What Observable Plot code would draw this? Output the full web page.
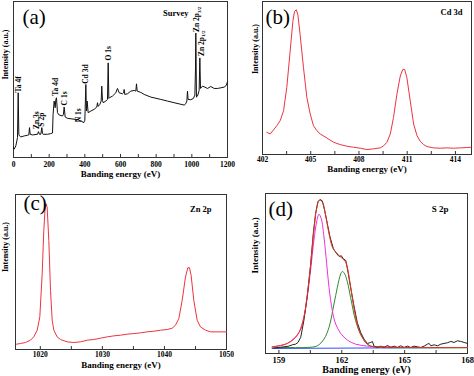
<!DOCTYPE html>
<html><head><meta charset="utf-8">
<script src="https://cdn.jsdelivr.net/npm/d3@7"></script>
<script src="https://cdn.jsdelivr.net/npm/@observablehq/plot@0.6"></script>
<style>
body{margin:0;background:#fff;}
#fig{position:relative;width:474px;height:376px;overflow:hidden;background:#fff;}
#fig > svg{position:absolute;}
</style></head><body><div id="fig"></div>
<script>
// ---- Panel (a) survey: [binding energy eV, intensity a.u.]
const survey = [[0,30],[3.7,25],[13,35],[18.7,50],[22.4,60],[26.2,195],[29.9,70],[33.6,65],[41,62],[60,65],[78.5,67],[86,68],[89.7,90],[93.5,70],[106.5,68],[134.6,70],[140,78],[145.8,70],[153,70],[159,90],[162.6,72],[166,70],[190.7,70],[209,72],[218.7,74],[222,130],[228,170],[233.6,150],[237.4,175],[241,180],[246.7,135],[256,128],[274.8,125],[280,130],[284,152],[289.7,122],[302.8,118],[358.9,114],[387,108],[392.5,104],[400,112],[405.6,220],[409,140],[413,170],[418.7,135],[433.6,140],[452,145],[467,152],[471,165],[474.8,154],[484,160],[491.6,170],[495,215],[499,172],[502.8,165],[517.8,170],[527,175],[531,285],[534.6,178],[538,180],[555,185],[573.8,195],[583,208],[592.5,195],[611,192],[617,195],[620.6,205],[624,190],[639,192],[658,200],[676.6,202],[686,200],[689.7,222],[693.5,200],[714,196],[732.7,190],[770,182],[826,175],[863.5,170],[901,165],[957,158],[966,162],[972,170],[975.7,200],[979,175],[994,174],[1009,178],[1017,188],[1020.6,270],[1022.4,375],[1026,182],[1031.8,185],[1041,202],[1045,300],[1048.6,208],[1060,215],[1073,212],[1087.9,208],[1106.5,214],[1125,208],[1144,208],[1162.6,210],[1181,212],[1192.5,217],[1200,228]];
const surveyPeaks = [
  {t:"Ta 4f", e:31, i:196},
  {t:"Zn 3s", e:131, i:86},
  {t:"S 2p", e:157, i:93},
  {t:"Ta 4d", e:234, i:186},
  {t:"C 1s", e:288, i:157},
  {t:"N 1s", e:363, i:106},
  {t:"Cd 3d", e:407, i:222},
  {t:"O 1s", e:531, i:292},
  {t:"Zn 2p3/2", e:1028, i:378},
  {t:"Zn 2p1/2", e:1054, i:306}
];
const surveyMajor = [0,200,400,600,800,1000,1200];
const surveyMinor = [100,300,500,700,900,1100];

// ---- Panel (b) Cd 3d
const cd3d = [[402.27,67],[402.48,62],[402.68,74],[402.89,87],[403.10,102],[403.31,132],[403.51,202],[403.72,312],[403.89,402],[403.99,432],[404.10,437],[404.20,422],[404.34,362],[404.55,262],[404.76,172],[404.97,122],[405.17,87],[405.38,72],[405.59,62],[406.00,50],[406.42,37],[406.83,30],[407.25,25],[407.66,22],[408.08,19],[408.49,15],[408.91,17],[409.32,20],[409.53,26],[409.74,37],[409.95,62],[410.15,112],[410.36,182],[410.57,237],[410.73,257],[410.84,257],[410.98,232],[411.19,162],[411.40,92],[411.61,57],[411.81,40],[412.02,30],[412.23,24],[412.64,20],[413.06,19],[413.47,20],[413.89,19],[414.30,20],[414.71,21],[414.97,22]];
const cdMajor = [402,405,408,411,414];
const cdMinor = [403.5,406.5,409.5,412.5];

// ---- Panel (c) Zn 2p
const zn2p = [[1016.16,16],[1016.81,18],[1017.61,21],[1018.42,28],[1018.95,38],[1019.49,58],[1019.92,98],[1020.30,228],[1020.56,358],[1020.78,428],[1020.94,438],[1021.10,428],[1021.37,328],[1021.64,178],[1021.91,88],[1022.18,58],[1022.71,38],[1023.25,30],[1024.32,23],[1025.40,21],[1026.47,23],[1027.55,28],[1028.62,30],[1029.69,34],[1030.77,38],[1031.84,41],[1032.92,43],[1033.99,46],[1035.07,48],[1036.14,50],[1037.21,53],[1038.29,55],[1039.36,58],[1040.44,60],[1041.24,64],[1041.78,73],[1042.32,93],[1042.86,148],[1043.39,218],[1043.77,246],[1044.03,246],[1044.30,223],[1044.73,148],[1045.27,88],[1045.80,68],[1046.61,58],[1047.42,53],[1048.49,53],[1050.0,53]];
const znMajor = [1020,1030,1040,1050];
const znMinor = [1025,1035,1045];

// ---- Panel (d) S 2p
const s2pRaw = [[158.76,16],[159.00,18],[159.24,20],[159.48,22],[159.64,26],[159.80,28],[159.91,33],[160.04,48],[160.19,98],[160.35,170],[160.51,263],[160.64,358],[160.75,418],[160.86,453],[160.96,460],[161.07,456],[161.18,428],[161.31,388],[161.44,348],[161.60,313],[161.76,298],[161.87,290],[161.98,292],[162.07,283],[162.19,278],[162.30,243],[162.42,198],[162.58,143],[162.74,93],[162.90,63],[163.06,43],[163.22,30],[163.38,33],[163.46,36],[163.54,22],[163.70,18],[163.86,22],[164.02,18],[164.18,24],[164.34,18],[164.50,22],[164.65,18],[164.81,23],[164.97,18],[165.13,22],[165.29,18],[165.45,22],[165.61,20],[165.77,18],[165.93,22],[166.09,28],[166.17,30],[166.25,23],[166.41,26],[166.57,23],[166.73,28],[166.88,30],[167.04,32],[167.20,36],[167.36,33],[167.52,38],[167.68,36],[167.84,33],[168.00,30]];
const s2pFit = [[158.68,20],[159.40,30],[159.96,63],[160.19,108],[160.35,173],[160.51,263],[160.67,368],[160.80,433],[160.93,458],[161.07,453],[161.23,413],[161.39,358],[161.55,318],[161.71,303],[161.87,293],[162.03,283],[162.19,273],[162.35,228],[162.50,168],[162.66,108],[162.82,68],[162.98,48],[163.14,33],[163.38,22],[163.86,20],[165.13,18],[168.00,18]];
const s2p32 = [[158.68,20],[159.08,24],[159.40,30],[159.72,43],[159.96,63],[160.19,108],[160.35,168],[160.51,248],[160.67,338],[160.80,393],[160.91,416],[161.02,403],[161.15,348],[161.28,268],[161.39,198],[161.55,128],[161.71,88],[161.95,60],[162.27,40],[162.66,28],[163.22,22],[163.86,20],[164.5,19]];
const s2p12 = [[158.68,17],[159.24,18],[160.35,18],[160.83,23],[161.15,43],[161.39,78],[161.63,148],[161.79,198],[161.95,238],[162.03,245],[162.14,238],[162.27,213],[162.42,168],[162.66,98],[162.90,58],[163.14,33],[163.38,22],[163.86,18],[165.13,17],[168.00,17]];
const s2pBase = [[158.68,15],[168.00,18]];
const sMajor = [159,162,165,168];
const sMinor = [160.5,163.5,166.5];

const fontFam = "Liberation Serif";
const baseStyle = {fontFamily: fontFam, fontWeight: "bold", fontSize: "7.5px", background: "transparent", overflow: "visible", color: "#000"};
const X = d => d[0], Y = d => d[1];

function axes(major, minor, pad) {
  return [
    Plot.axisX({ticks: major, tickSize: 0, tickPadding: pad, label: null, tickFormat: d => String(d), fontFamily: fontFam, fontWeight: "bold"}),
    Plot.axisX({ticks: major.concat(minor), tickSize: -3, tickFormat: () => "", label: null, stroke: "#333"})
  ];
}
function txt(s, o) { return Plot.text([s], {text: d => d, fontFamily: fontFam, fontWeight: "bold", ...o}); }

const A = Plot.plot({
  width: 237, height: 185, marginLeft: 13, marginRight: 10, marginTop: 1, marginBottom: 28,
  x: {domain: [0, 1200]}, y: {domain: [0, 470], axis: null}, style: baseStyle,
  marks: [
    Plot.frame({stroke: "#333"}),
    ...axes(surveyMajor, surveyMinor, 4),
    Plot.line(survey, {x: X, y: Y, stroke: "#111", strokeWidth: 1}),
    Plot.text(surveyPeaks, {x: "e", y: "i", text: "t", rotate: -90, textAnchor: "start", fontSize: 7.5, fontFamily: fontFam, fontWeight: "bold"}),
    txt("Survey", {frameAnchor: "top-right", dx: -39, dy: 12, textAnchor: "end", lineAnchor: "middle", fontSize: 8.5}),
    txt("(a)", {frameAnchor: "top-left", dx: 9, dy: 16, textAnchor: "start", lineAnchor: "middle", fontSize: 21, fontWeight: "normal"}),
    txt("Intensity (a.u.)", {frameAnchor: "left", rotate: -90, dx: -8, fontSize: 8}),
    txt("Banding energy (eV)", {frameAnchor: "bottom", dy: 17, lineAnchor: "middle", fontSize: 9})
  ]
});

const B = Plot.plot({
  width: 234, height: 182, marginLeft: 22, marginRight: 3, marginTop: 1, marginBottom: 28,
  x: {domain: [402, 415]}, y: {domain: [0, 462], axis: null}, style: baseStyle,
  marks: [
    Plot.frame({stroke: "#333"}),
    ...axes(cdMajor, cdMinor, 2),
    Plot.line(cd3d, {x: X, y: Y, stroke: "#ec3440", strokeWidth: 1}),
    txt("Cd 3d", {frameAnchor: "top-right", dx: -9, dy: 11, textAnchor: "end", lineAnchor: "middle", fontSize: 8.5}),
    txt("(b)", {frameAnchor: "top-left", dx: 3, dy: 16, textAnchor: "start", lineAnchor: "middle", fontSize: 21, fontWeight: "normal"}),
    txt("Intensity (a.u.)", {frameAnchor: "left", rotate: -90, dx: -7, dy: -4, fontSize: 8}),
    txt("Banding energy (eV)", {frameAnchor: "bottom", dy: 15, lineAnchor: "middle", fontSize: 9})
  ]
});

const C = Plot.plot({
  width: 237, height: 186, marginLeft: 15, marginRight: 11, marginTop: 4, marginBottom: 27,
  x: {domain: [1016, 1050]}, y: {domain: [0, 466], axis: null}, style: baseStyle,
  marks: [
    Plot.frame({stroke: "#333"}),
    ...axes(znMajor, znMinor, 2),
    Plot.line(zn2p, {x: X, y: Y, stroke: "#ec3440", strokeWidth: 1}),
    txt("Zn 2p", {frameAnchor: "top-right", dx: -15, dy: 15, textAnchor: "end", lineAnchor: "middle", fontSize: 8.5}),
    txt("(c)", {frameAnchor: "top-left", dx: 8, dy: 9, textAnchor: "start", lineAnchor: "middle", fontSize: 21, fontWeight: "normal"}),
    txt("Intensity (a.u.)", {frameAnchor: "left", rotate: -90, dx: -10, fontSize: 8}),
    txt("Banding energy (eV)", {frameAnchor: "bottom", dy: 16, lineAnchor: "middle", fontSize: 9})
  ]
});

const D = Plot.plot({
  width: 234, height: 186, marginLeft: 25, marginRight: 7, marginTop: 3, marginBottom: 23,
  x: {domain: [158.36, 168]}, y: {domain: [0, 478], axis: null},
  style: {...baseStyle, fontSize: "8.5px"},
  marks: [
    Plot.frame({stroke: "#333"}),
    ...axes(sMajor, sMinor, 3),
    Plot.line(s2pBase, {x: X, y: Y, stroke: "#3050ff", strokeWidth: 1}),
    Plot.line(s2p12, {x: X, y: Y, stroke: "#2e8b2e", strokeWidth: 1, curve: "catmull-rom"}),
    Plot.line(s2p32, {x: X, y: Y, stroke: "#f030d8", strokeWidth: 1, curve: "catmull-rom"}),
    Plot.line(s2pRaw, {x: X, y: Y, stroke: "#222", strokeWidth: 1}),
    Plot.line(s2pFit, {x: X, y: Y, stroke: "#ee3322", strokeWidth: 1, curve: "catmull-rom"}),
    txt("S 2p", {frameAnchor: "top-right", dx: -19, dy: 16, textAnchor: "end", lineAnchor: "middle", fontSize: 9}),
    txt("(d)", {frameAnchor: "top-left", dx: 3, dy: 16, textAnchor: "start", lineAnchor: "middle", fontSize: 21, fontWeight: "normal"}),
    txt("Intensity (a.u.)", {frameAnchor: "left", rotate: -90, dx: -10, fontSize: 9}),
    txt("Banding energy (eV)", {frameAnchor: "bottom", dy: 16.5, lineAnchor: "middle", fontSize: 10})
  ]
});

// subscripts for the spin-orbit labels (real text in tspans)
d3.select(A).selectAll("text").each(function () {
  const s = this.textContent;
  const m = s.match(/^(Zn 2p)(\d\/\d)$/);
  if (m) {
    const t = d3.select(this);
    t.text(m[1]);
    t.append("tspan").attr("font-size", 5).attr("dy", 1.5).text(m[2]);
  }
});

const fig = document.getElementById("fig");
[[A,0,0],[B,240,0],[C,0,190],[D,240,190]].forEach(([p,l,t]) => {
  p.style.left = l + "px"; p.style.top = t + "px";
  fig.appendChild(p);
});
</script></body></html>
